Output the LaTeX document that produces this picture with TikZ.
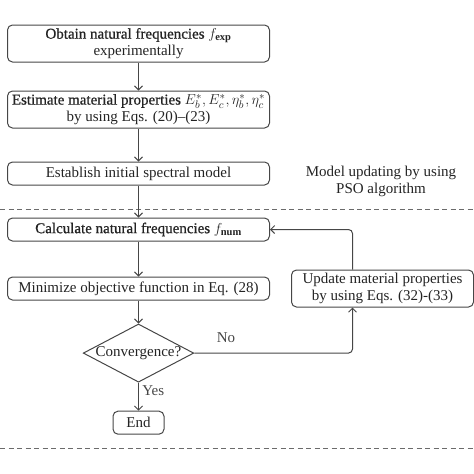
\documentclass[tikz,border=0pt]{standalone}
\usepackage{fontspec}
\setmainfont{Liberation Serif}
\usetikzlibrary{arrows.meta,positioning,shapes.geometric}
\definecolor{ink}{RGB}{70,70,70}
\definecolor{txt}{RGB}{35,35,35}
\newcommand{\heavy}[1]{{\addfontfeature{FakeBold=0.8}#1}}

\begin{document}
\begin{tikzpicture}[x=1pt,y=-1pt,
      font=\fontsize{15}{17}\selectfont,text=txt,
      box/.style={draw=ink,line width=1pt,rounded corners=5pt,minimum width=262pt,
                  minimum height=23pt,align=center,inner sep=1pt},
      tall/.style={box,minimum height=37pt},
      decide/.style={draw=ink,line width=1pt,diamond,aspect=1.9,inner sep=0pt,
                     minimum width=110pt,minimum height=58pt},
      ar/.style={-{Straight Barb[length=4pt,width=8pt]},line width=1pt,color=ink},
      sep/.style={draw=ink!80,line width=1pt,dash pattern=on 5pt off 3.5pt}]
      \useasboundingbox (0,0) rectangle (474,474);
      \node[tall] (exp) at (138.5,43.5) {\heavy{Obtain natural frequencies} $f_{\mathbf{exp}}$\\experimentally};
      \node[tall,below=28pt of exp] (est) {\heavy{Estimate material properties} $E_b^*, E_c^*, \eta_b^*, \eta_c^*$\\by using Eqs. (20)--(23)};
      \node[box,below=33pt of est] (model) {Establish initial spectral model};
      \node[box,below=32pt of model] (calc) {\heavy{Calculate natural frequencies} $f_{\mathbf{num}}$};
      \node[box,below=35pt of calc] (mini) {Minimize objective function in Eq. (28)};
      \node[decide,below=23pt of mini] (conv) {Convergence?};
      \node[box,minimum width=51pt,below=28pt of conv] (fin) {End};
      \node[tall,minimum width=182pt,right=21pt of mini] (upd) {Update material properties\\by using Eqs. (32)-(33)};
      \node[align=center] (pso) at (381,181.5) {Model updating by using\\PSO algorithm};
      \draw[sep] (0,209) -- (474,209);
      \draw[sep] (0,448) -- (474,448);
      \draw[ar] (exp) -- (est); \draw[ar] (est) -- (model);
      \draw[ar] (model) -- (calc); \draw[ar] (calc) -- (mini); \draw[ar] (mini) -- (conv);
      \draw[ar] (conv) -- node[right,pos=0.3] {Yes} (fin);
      \draw[ar,rounded corners=4pt] (conv.east) -| node[above=7pt,pos=0.1] {No} ([xshift=-30pt]upd.south);
      \draw[ar,rounded corners=4pt] ([xshift=-30pt]upd.north) |- (calc.east);
    \end{tikzpicture}
\end{document}
